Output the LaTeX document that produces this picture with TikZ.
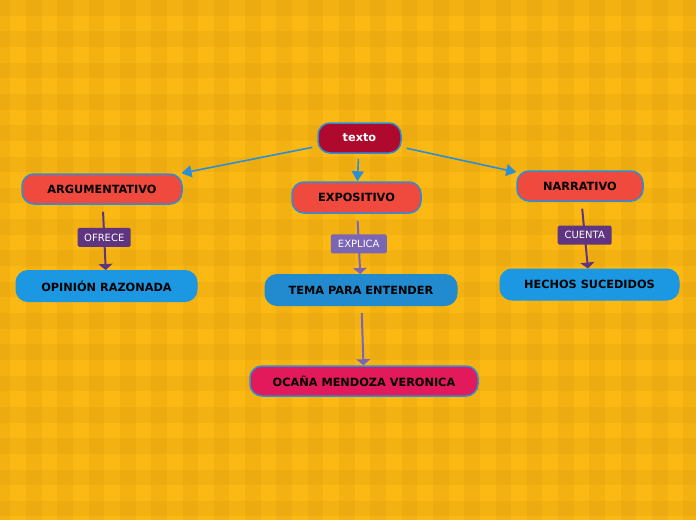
\documentclass[tikz,border=0pt]{standalone}
\usepackage{fontspec}
\setmainfont{DejaVu Sans}
\usetikzlibrary{arrows.meta}
\definecolor{mmbg}{HTML}{FCB813}
\definecolor{crimson}{HTML}{AF0A2D}
\definecolor{tomato}{HTML}{F0493D}
\definecolor{rim}{HTML}{2B8FD5}
\definecolor{sky}{HTML}{1C98E3}
\definecolor{deepsky}{HTML}{228BCF}
\definecolor{rose}{HTML}{E2195B}
\definecolor{plum}{HTML}{5F3480}
\definecolor{lilac}{HTML}{7B65B5}
\tikzset{
  rootbox/.style={draw=rim, line width=1.5pt, fill=crimson, rounded corners=12pt,
                  inner sep=0pt, minimum width=83pt, minimum height=30pt,
                  text=white, font=\fontsize{11.3}{13}\selectfont\bfseries},
  redbox/.style={draw=rim, line width=1.5pt, fill=tomato, rounded corners=12pt,
                 inner sep=0pt, minimum height=30pt, text=black,
                 font=\fontsize{11.3}{13}\selectfont\bfseries},
  bluebox/.style={draw=sky, line width=1pt, fill=sky, rounded corners=12pt,
                  inner sep=0pt, minimum height=31pt, text=black,
                  font=\fontsize{11.3}{13}\selectfont\bfseries},
  pinkbox/.style={draw=rim, line width=1.5pt, fill=rose, rounded corners=12pt,
                  inner sep=0pt, minimum height=30pt, text=black,
                  font=\fontsize{11.3}{13}\selectfont\bfseries},
  tagbox/.style={fill=plum, rounded corners=1.5pt, inner sep=0pt,
                 minimum height=19pt, text=white, font=\fontsize{10}{12}\selectfont},
  barr/.style={-{Triangle[length=10pt,width=12pt]}, line width=1.6pt, color=rim,
               shorten <=5pt},
  parr/.style={-{Triangle[length=6pt,width=14pt]}, line width=2pt, color=plum,
               shorten <=7pt}}
\begin{document}
\begin{tikzpicture}[x=1pt,y=-1pt]
  \useasboundingbox (0,0) rectangle (696,520);
  % plaid
  \fill[mmbg] (0,0) rectangle (696,520);
  \foreach \k in {-1,...,22}
    \fill[black, opacity=0.03] ({26+31.3*\k},0) rectangle ++(15.6,520);
  \foreach \k in {0,...,16}
    \fill[black, opacity=0.03] (0,{31.3*\k}) rectangle ++(696,15.6);

  \node[rootbox] (texto) at (359.5,138) {texto};
  \node[redbox, minimum width=160pt] (argu) at (102,189) {ARGUMENTATIVO};
  \node[redbox, minimum width=129pt, minimum height=31pt] (expo) at (356.5,197.5) {EXPOSITIVO};
  \node[redbox, minimum width=126pt] (narra) at (580,186) {NARRATIVO};
  \node[bluebox, minimum width=181pt] (opin) at (106.5,286) {OPINIÓN RAZONADA};
  \node[bluebox, draw=deepsky, fill=deepsky, minimum width=192pt] (tema) at (361,290) {TEMA PARA ENTENDER};
  \node[bluebox, minimum width=179pt] (hechos) at (589.5,284.5) {HECHOS SUCEDIDOS};
  \node[pinkbox, minimum width=228pt] (autora) at (364,381) {OCAÑA MENDOZA VERONICA};

  \draw[barr] (texto) -- (argu);
  \draw[barr] (texto) -- (expo);
  \draw[barr] (texto) -- (narra);
  \draw[parr] (argu) -- node[tagbox, minimum width=53pt] {OFRECE} (opin);
  \draw[parr, color=lilac] (expo) -- node[tagbox, fill=lilac, minimum width=56pt] {EXPLICA} (tema);
  \draw[parr] (narra) -- node[tagbox, minimum width=54pt] {CUENTA} (hechos);
  \draw[parr, color=lilac] (tema) -- (autora);
\end{tikzpicture}
\end{document}
